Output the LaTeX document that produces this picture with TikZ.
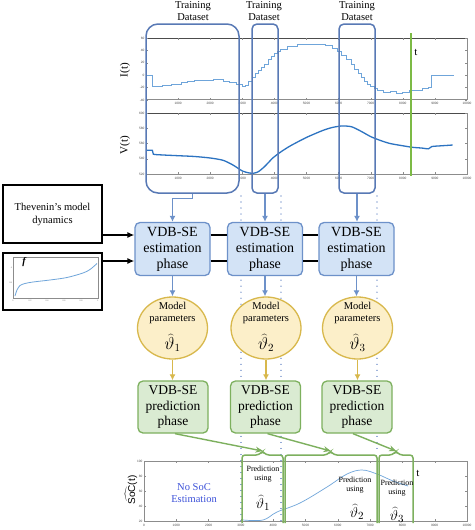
\documentclass[tikz,border=0pt]{standalone}
\usepackage{fontspec}
\setmainfont{Liberation Serif}
\setsansfont{Liberation Sans}
\usetikzlibrary{arrows.meta,shapes.geometric}
\definecolor{estfill}{HTML}{D3E3F6}
\definecolor{estdraw}{HTML}{6D91C9}
\definecolor{parfill}{HTML}{FCEFC9}
\definecolor{pardraw}{HTML}{D8B84C}
\definecolor{prefill}{HTML}{DAEBD2}
\definecolor{predraw}{HTML}{7DB05E}
\definecolor{trdraw}{HTML}{5879B5}
\definecolor{tgreen}{HTML}{7CBA45}
\definecolor{curvec}{HTML}{6FA5DA}
\definecolor{vcurve}{HTML}{2C73C1}
\definecolor{noest}{HTML}{3D52D9}
\definecolor{framec}{HTML}{8C8C8C}
\definecolor{dotblue}{HTML}{6E8CC8}
\begin{document}
\begin{tikzpicture}[x=1pt,y=-1pt,
  estbox/.style={draw=estdraw, fill=estfill, line width=1.3pt, rounded corners=5pt,
    minimum width=75pt, minimum height=53pt, align=center, inner sep=0pt,
    font=\fontsize{14}{16}\selectfont},
  parell/.style={ellipse, draw=pardraw, fill=parfill, line width=1.3pt,
    minimum width=70pt, minimum height=62pt, align=center, inner sep=0pt},
  prebox/.style={draw=predraw, fill=prefill, line width=1.3pt, rounded corners=5pt,
    minimum width=70pt, minimum height=52pt, align=center, inner sep=0pt,
    font=\fontsize{13.5}{15.5}\selectfont},
  blkbox/.style={draw=black, line width=1.5pt, minimum width=99pt, align=center, inner sep=0pt},
  trbox/.style={draw=trdraw, line width=1.5pt, minimum height=169pt, inner sep=0pt},
  trlab/.style={align=center, font=\fontsize{10.5}{12}\selectfont},
  bluearr/.style={draw=estdraw, line width=1.3pt, -{Latex[length=6pt,width=6pt]}},
  goldarr/.style={draw=pardraw, line width=1.3pt, -{Latex[length=6pt,width=6pt]}},
  greenarr/.style={draw=predraw, line width=1.4pt, -{Stealth[length=7pt,width=6pt]}},
  blkarr/.style={draw=black, line width=1.3pt, -{Latex[length=7pt,width=6pt]}},
  blkline/.style={draw=black, line width=1.3pt},
  brack/.style={draw=predraw, line width=1.5pt, rounded corners=3pt},
  plotframe/.style={draw=framec, line width=0.6pt},
  ticklab/.style={font=\sffamily\fontsize{3.2}{3.2}\selectfont, text=black!70, inner sep=0.3pt},
  tinylab/.style={font=\sffamily\fontsize{2}{2}\selectfont, text=black!60, inner sep=0.2pt},
  dotline/.style={draw=dotblue, line width=1.1pt, dash pattern=on 0.01pt off 6pt, line cap=round},
  predlab/.style={align=center, font=\fontsize{8}{9}\selectfont, inner sep=0pt},
  bigtheta/.style={font=\fontsize{16}{16}\selectfont, inner sep=0pt},
  midtheta/.style={font=\fontsize{15.5}{15.5}\selectfont, inner sep=0pt},
]
\useasboundingbox (0,0) rectangle (474,530);
\fill[white] (0,0) rectangle (474,530);

% ---------------- I(t) plot ----------------
\draw[plotframe] (146,38) rectangle (467,99.5);
\draw[black!70, line width=0.8pt] (146,38) -- (467,38);
\foreach \k in {1,...,9} {
  \draw[framec, line width=0.4pt] (146+32.1*\k,99.5) -- ++(0,-2);
  \draw[framec, line width=0.4pt] (146+32.1*\k,38) -- ++(0,2);
}
\foreach \k in {1,...,10} \node[ticklab] at (146+32.1*\k,103.5) {\k000};
\foreach \v [count=\i from 0] in {60,40,20,0,-20,-40} {
  \node[ticklab, anchor=east] at (145,38+12.4*\i) {\v};
  \draw[framec, line width=0.4pt] (146,38+12.4*\i) -- ++(2,0);
  \draw[framec, line width=0.4pt] (467,38+12.4*\i) -- ++(-2,0);
}
\node[rotate=90, font=\fontsize{11}{11}\selectfont] (ilab) at (125,70) {I(t)};
\begin{scope}[shift={(146pt,-75.2pt)}, x=0.0321pt, y=0.62pt]
\draw[curvec, line width=0.7pt, const plot] plot coordinates {
(0,0) (200,-18) (500,-16) (800,-14) (1100,-12) (1300,-10) (1500,-8) (1800,-9)
(2100,-7) (2400,-10) (2600,-12) (2800,-15) (3000,-18) (3100,-17) (3200,-10)
(3300,-3) (3400,3) (3500,8) (3600,13) (3700,18) (3800,25) (3900,30) (4000,35)
(4100,38) (4200,42) (4400,46) (4700,50) (5600,48) (5800,43) (5950,38) (6100,32)
(6250,25) (6400,17) (6500,10) (6600,3) (6700,-4) (6800,-10) (6900,-15) (7000,-18)
(7100,-21) (7200,-24) (7400,-27) (7600,-26) (7800,-29) (8000,-27) (8200,-25)
(8400,-24) (8600,-22) (8800,-20) (8900,0) (9600,0)};
\end{scope}

% ---------------- V(t) plot ----------------
\draw[plotframe] (146,113) rectangle (467,174);
\draw[black!70, line width=0.8pt] (146,113) -- (467,113);
\foreach \k in {1,...,9} {
  \draw[framec, line width=0.4pt] (146+32.1*\k,174) -- ++(0,-2);
  \draw[framec, line width=0.4pt] (146+32.1*\k,113) -- ++(0,2);
}
\foreach \k in {1,...,10} \node[ticklab] at (146+32.1*\k,178) {\k000};
\foreach \v [count=\i from 0] in {600,580,560,540,520} {
  \node[ticklab, anchor=east] at (145,113+15.25*\i) {\v};
  \draw[framec, line width=0.4pt] (146,113+15.25*\i) -- ++(2,0);
  \draw[framec, line width=0.4pt] (467,113+15.25*\i) -- ++(-2,0);
}
\node[rotate=90, font=\fontsize{11}{11}\selectfont] (vlab) at (125,145) {V(t)};
\begin{scope}[shift={(146pt,-174pt)}, x=0.0321pt, y=0.7625pt]
\draw[vcurve, line width=1.3pt] plot[smooth, tension=0.4] coordinates {
(0,31) (200,31) (230,26) (500,25) (1000,24) (1500,23) (2000,21) (2400,18)
(2700,12) (3000,4) (3200,1.5) (3350,1) (3500,3) (3700,10) (3950,21) (4200,29)
(4500,37) (5000,48) (5500,57) (5800,61) (6100,63) (6400,62) (6700,56) (7000,49)
(7300,44) (7600,40) (8000,37) (8300,35) (8600,34) (8800,33) (8900,36) (9200,37) (9550,38)};
\end{scope}

% ---------------- green t line ----------------
\draw[tgreen, line width=2pt] (411,33) -- (411,176);
\node[font=\fontsize{11}{11}\selectfont] (ttop) at (416,52) {t};

% ---------------- training boxes ----------------
\node[trbox, minimum width=93pt, rounded corners=12pt] (tr1) at (192.5,108.5) {};
\node[trbox, minimum width=26pt, rounded corners=5pt] (tr2) at (265,108.5) {};
\node[trbox, minimum width=36pt, rounded corners=5pt] (tr3) at (357,108.5) {};
\node[trlab] (lab1) at (193,11) {Training\\Dataset};
\node[trlab] (lab2) at (264,11) {Training\\Dataset};
\node[trlab] (lab3) at (357,11) {Training\\Dataset};

% ---------------- dotted guides ----------------
\draw[dotline] (241,196) -- (241,522);
\draw[dotline] (281,196) -- (281,522);
\draw[dotline] (377,196) -- (377,452);

% ---------------- SoC plot ----------------
\draw[plotframe] (144,461) rectangle (467,521);
\foreach \k in {1,...,9} {
  \draw[framec, line width=0.4pt] (144+32.3*\k,521) -- ++(0,-2);
  \draw[framec, line width=0.4pt] (144+32.3*\k,461) -- ++(0,2);
}
\node[ticklab] at (144,525.5) {0};
\foreach \k in {1,...,10} \node[ticklab] at (144+32.3*\k,525.5) {\k000};
\foreach \v [count=\i from 0] in {100,80,60,40,20} {
  \node[ticklab, anchor=east] at (143,461+15*\i) {\v};
  \draw[framec, line width=0.4pt] (144,461+15*\i) -- ++(2,0);
  \draw[framec, line width=0.4pt] (467,461+15*\i) -- ++(-2,0);
}
\node[rotate=90, font=\sffamily\fontsize{10}{10}\selectfont] (slab) at (131,490) {$\widehat{\mathsf{SoC}}$(t)};
\node[align=center, text=noest, font=\fontsize{10.5}{12}\selectfont] (noe) at (194,493) {No SoC\\Estimation};
\draw[curvec, line width=0.7pt] plot[smooth, tension=0.6] coordinates {
(243,520) (263,520) (277,512) (300,503) (327,487) (347,474) (362,470) (377,474) (393,481) (408,486)};
\node[font=\fontsize{11}{11}\selectfont] (tbot) at (418,473) {t};

% brackets
\coordinate (b1) at (262.5,451);
\coordinate (b2) at (330.5,451);
\coordinate (b3) at (396,451);
\draw[brack] (242,523) |- (259,455) -- (b1) -- (266,455) -| (283,523);
\draw[brack] (285,523) |- (327,455) -- (b2) -- (334,455) -| (377,523);
\draw[brack] (379,523) |- (392.5,455) -- (b3) -- (399.5,455) -| (413,523);
\node[predlab] (pu1) at (263,474) {Prediction\\using};
\node[midtheta] (th1) at (263,503) {$\widehat{\vartheta}_1$};
\node[predlab] (pu2) at (355,485) {Prediction\\using};
\node[midtheta] (th2) at (357,512) {$\widehat{\vartheta}_2$};
\node[predlab] (pu3) at (397,488.5) {Prediction\\using};
\node[midtheta] (th3) at (397,515) {$\widehat{\vartheta}_3$};

% ---------------- left inputs ----------------
\node[blkbox, minimum height=58pt, font=\fontsize{10.5}{13}\selectfont] (th) at (52.5,214) {Thevenin's model\\dynamics};
\node[blkbox, minimum height=57pt] (fb) at (52.5,281.5) {};
\draw[black!45, line width=0.4pt] (13,257) rectangle (98,298);
\foreach \k/\t in {0/0,2/0.2,4/0.4,6/0.6,8/0.8,10/1} \node[tinylab] at (13+8.5*\k,300.5) {\t};
\node[tinylab, anchor=east] at (12.5,268) {4};
\node[tinylab, anchor=east] at (12.5,283) {3.5};
\draw[curvec, line width=0.8pt] plot[smooth, tension=0.5] coordinates {
(15,296) (17,290) (20,285.5) (25,283.5) (33,282) (50,280) (67,277.5) (83,273) (90,269.5) (97,263.5)};
\node[font=\bfseries\itshape\fontsize{10}{10}\selectfont] (flab) at (24,262) {f};

% ---------------- estimation boxes ----------------
\node[estbox] (e1) at (172.5,249) {VDB-SE\\estimation\\phase};
\node[estbox] (e2) at (265,249) {VDB-SE\\estimation\\phase};
\node[estbox] (e3) at (356.5,249) {VDB-SE\\estimation\\phase};

\draw[blkarr] ([yshift=-21pt]th.east) -- ([yshift=14pt]e1.west);
\draw[blkarr] ([yshift=20.5pt]fb.east) -- ([yshift=-12pt]e1.west);
\draw[blkline] ([yshift=14pt]e1.east) -- ([yshift=14pt]e2.west);
\draw[blkline] ([yshift=-12pt]e1.east) -- ([yshift=-12pt]e2.west);
\draw[blkline] ([yshift=14pt]e2.east) -- ([yshift=14pt]e3.west);
\draw[blkline] ([yshift=-12pt]e2.east) -- ([yshift=-12pt]e3.west);

\draw[bluearr] (tr1.south) -- ++(0,5) -| (e1.north);
\draw[bluearr] (tr2.south) -- (e2.north);
\draw[bluearr] (tr3.south) -- (tr3.south |- e3.north);

% ---------------- parameter ellipses ----------------
\foreach \n/\x/\s in {m1/172.5/1, m2/266/2, m3/357.5/3} {
  \node[parell] (\n) at (\x,328) {};
  \node[align=center, font=\fontsize{10.5}{12}\selectfont, inner sep=0pt] (\n txt) at (\x,313) {Model\\parameters};
  \node[bigtheta] (\n th) at (\x,343) {$\widehat{\vartheta}_{\s}$};
}
\draw[bluearr] (e1.south) -- (e1.south |- m1.north);
\draw[bluearr] (e2.south) -- (e2.south |- m2.north);
\draw[bluearr] (e3.south) -- (e3.south |- m3.north);

% ---------------- prediction boxes ----------------
\node[prebox] (p1) at (173,407) {VDB-SE\\prediction\\phase};
\node[prebox] (p2) at (265.5,407) {VDB-SE\\prediction\\phase};
\node[prebox] (p3) at (357,407) {VDB-SE\\prediction\\phase};
\draw[goldarr] (m1.south) -- (m1.south |- p1.north);
\draw[goldarr] (m2.south) -- (m2.south |- p2.north);
\draw[goldarr] (m3.south) -- (m3.south |- p3.north);

\draw[greenarr] ([xshift=2pt]p1.south) -- (b1);
\draw[greenarr] ([xshift=2pt]p2.south) -- (b2);
\draw[greenarr] ([xshift=-4pt]p3.south) -- (b3);
\end{tikzpicture}
\end{document}
